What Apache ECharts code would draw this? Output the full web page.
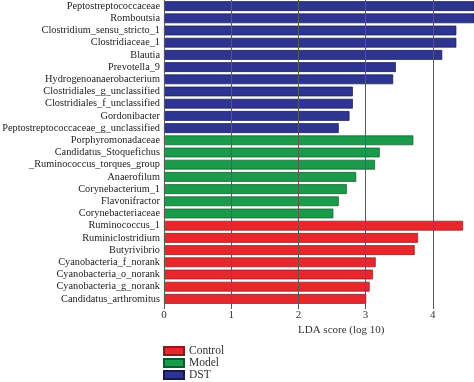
<!DOCTYPE html>
<html>
<head>
<meta charset="utf-8">
<script src="https://cdn.jsdelivr.net/npm/echarts@6/dist/echarts.min.js"></script>
<style>html,body{margin:0;padding:0;background:#fff}#c{width:474px;height:382px}</style>
</head>
<body>
<div id="c"></div>
<script>
const categories = [
  'Peptostreptococcaceae','Romboutsia','Clostridium_sensu_stricto_1','Clostridiaceae_1','Blautia',
  'Prevotella_9','Hydrogenoanaerobacterium','Clostridiales_g_unclassified','Clostridiales_f_unclassified',
  'Gordonibacter','Peptostreptococcaceae_g_unclassified',
  'Porphyromonadaceae','Candidatus_Stoquefichus','_Ruminococcus_torques_group','Anaerofilum',
  'Corynebacterium_1','Flavonifractor','Corynebacteriaceae',
  'Ruminococcus_1','Ruminiclostridium','Butyrivibrio','Cyanobacteria_f_norank','Cyanobacteria_o_norank',
  'Cyanobacteria_g_norank','Candidatus_arthromitus'
];
const dstValues = [4.75, 4.72, 4.35, 4.35, 4.14, 3.45, 3.41, 2.81, 2.81, 2.76, 2.60];
const modelValues = [3.71, 3.21, 3.14, 2.86, 2.72, 2.60, 2.52];
const controlValues = [4.45, 3.78, 3.73, 3.15, 3.11, 3.06, 3.01];
const groupNames = ['Control', 'Model', 'DST'];
const xTicks = [0, 1, 2, 3, 4];

const n = categories.length;
function place(vals, start) {
  const arr = new Array(n).fill('-');
  vals.forEach((v, i) => { arr[start + i] = v; });
  return arr;
}
const dstData = place(dstValues, 0);
const modelData = place(modelValues, dstValues.length);
const controlData = place(controlValues, dstValues.length + modelValues.length);

const font = 'Liberation Serif';
const chart = echarts.init(document.getElementById('c'), null, {renderer: 'canvas'});
const barCommon = {
  type: 'bar', stack: 'g', barCategoryGap: '20%', clip: true
};
chart.setOption({
  animation: false,
  textStyle: {fontFamily: font},
  grid: {left: 164, right: 0, top: 0, height: 305, containLabel: false, outerBoundsMode: 'none'},
  legend: {
    data: groupNames,
    orient: 'vertical',
    left: 163, top: 345, height: 60,
    padding: 0,
    itemWidth: 20, itemHeight: 8, itemGap: 0,
    textStyle: {fontFamily: font, fontSize: 11.5, color: '#333', lineHeight: 11.7},
    icon: 'rect'
  },
  xAxis: {
    type: 'value', min: 0, max: 4.613, interval: 1, z: 10,
    axisLine: {show: false},
    axisTick: {show: true, length: 4, lineStyle: {color: '#555'}},
    axisLabel: {showMaxLabel: false, fontFamily: font, fontSize: 11, color: '#333', margin: 5,
      formatter: v => xTicks.includes(v) ? String(v) : ''},
    splitLine: {show: true, lineStyle: {color: '#5a5a5a', width: 1}}
  },
  yAxis: {
    type: 'category', data: categories, inverse: true,
    axisLine: {show: false}, axisTick: {show: false},
    axisLabel: {fontFamily: font, fontSize: 10.3, color: '#222', margin: 4, interval: 0}
  },
  graphic: [{
    type: 'text', left: 298, top: 325,
    style: {text: 'LDA score (log 10)', font: '11px "Liberation Serif"', fill: '#333', textAlign: 'center'}
  }],
  series: [
    Object.assign({}, barCommon, {name: 'Control', data: controlData,
      itemStyle: {color: '#e8262b', borderColor: '#8a1b1b', borderWidth: 0.7}}),
    Object.assign({}, barCommon, {name: 'Model', data: modelData,
      itemStyle: {color: '#1a9a4a', borderColor: '#0f5a2a', borderWidth: 0.7}}),
    Object.assign({}, barCommon, {name: 'DST', data: dstData,
      itemStyle: {color: '#2d3492', borderColor: '#161a50', borderWidth: 0.7}})
  ]
});
</script>
</body>
</html>
